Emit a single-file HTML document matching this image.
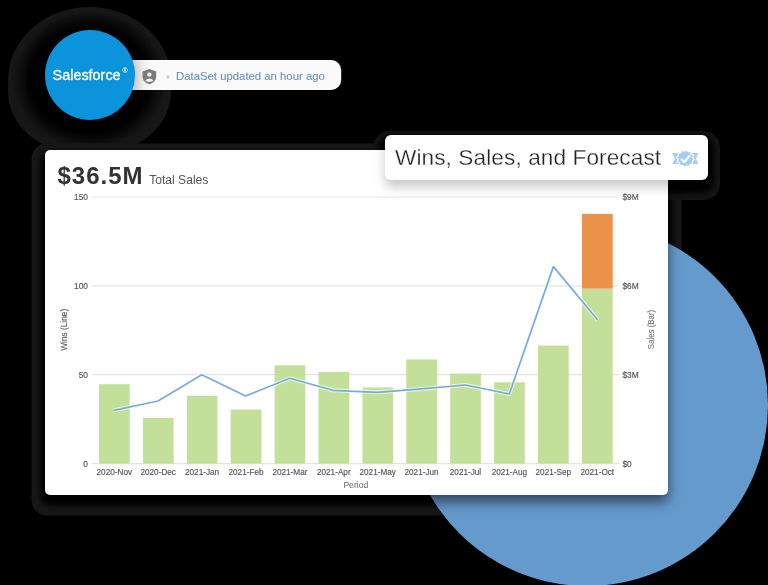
<!DOCTYPE html>
<html><head><meta charset="utf-8">
<style>
html,body{margin:0;padding:0;width:768px;height:585px;overflow:hidden;background:#000;}
body{position:relative;font-family:"Liberation Sans",sans-serif;}
.abs{position:absolute;}
#halo{left:8px;top:7px;width:163px;height:146px;border-radius:50% 50% 44% 44% / 50% 50% 42% 42%;
  background:radial-gradient(closest-side, #000 0%, #000 70%, #060606 78%, #0e0e0e 86%, #151515 93%, #171717 100%);}
#ghostCard{left:45px;top:150px;width:623px;height:345px;border-radius:5px;
  box-shadow:0 6px 6px 4px #000, 0 7px 0 13.5px #181818;}
#ghostTitle{left:385px;top:135px;width:323px;height:45px;border-radius:6px;
  box-shadow:0 7px 6px 6px #000, 0 8px 0 12px #151515;}
#bigcircle{left:405.5px;top:223.6px;width:362px;height:362px;border-radius:50%;background:#659acd;}
#card{left:45px;top:150px;width:623px;height:345px;border-radius:5px;background:#fff;
  box-shadow:0 7px 13px rgba(0,0,0,0.55);}
#pill{left:100px;top:60px;width:240.6px;height:30px;border-radius:0 10px 10px 0;background:#fafafa;box-shadow:0.6px 0 0 rgba(80,140,215,0.6);}
#logo{left:44.75px;top:29.75px;width:90px;height:90px;border-radius:50%;background:#0b93dc;
  box-shadow:0 2px 18px rgba(0,0,0,0.42);}
#title{left:385.4px;top:134.8px;width:322.8px;height:44.8px;border-radius:6px;background:#fff;
  box-shadow:0 7px 12px rgba(0,0,0,0.22);}
svg{position:absolute;left:0;top:0;will-change:transform;}
</style></head>
<body>
<div id="halo" class="abs"></div>
<div id="ghostCard" class="abs"></div>
<div id="ghostTitle" class="abs"></div>
<div id="bigcircle" class="abs"></div>
<div id="card" class="abs"></div>
<div id="pill" class="abs"></div>
<div id="logo" class="abs"></div>
<div id="title" class="abs"></div>
<svg width="768" height="585" viewBox="0 0 768 585" font-family="Liberation Sans, sans-serif">
  <!-- logo text -->
  <text x="52.6" y="79.8" fill="#fff" stroke="#fff" stroke-width="0.3" font-size="14.4">Salesforce</text>
  <text x="122.2" y="73" fill="#fff" font-size="7.5" font-weight="700">®</text>
  <!-- pill content -->
  <g fill="#7b7b7b">
    <path d="M149.4 69 L156.2 71.5 L156.2 76.5 Q156.2 82 149.4 84.3 Q142.5 82 142.5 76.5 L142.5 71.5 Z"/>
  </g>
  <circle cx="149.4" cy="74.6" r="2.2" fill="#f2f2f2"/>
  <path d="M145.2 80.6 Q149.4 76.6 153.6 80.6 Q149.4 83.2 145.2 80.6 Z" fill="#f2f2f2"/>
  <circle cx="167.9" cy="76.9" r="1.8" fill="#d3d3d3"/>
  <text x="176" y="79.6" fill="#6b92b9" stroke="#6b92b9" stroke-width="0.12" font-size="11.35">DataSet updated an hour ago</text>

  <!-- title -->
  <text x="395" y="165.4" fill="#222" stroke="#fff" stroke-width="0.3" font-size="22.6" letter-spacing="0.1">Wins, Sales, and Forecast</text>

  <g fill="#a6cdef">
    <polygon points="681,153.1 672.3,153.1 674.9,158.5 672.3,163.9 681,163.9"/>
    <polygon points="689.8,153.1 698.5,153.1 695.9,158.5 698.5,163.9 689.8,163.9"/>
    <polygon stroke="#fff" stroke-width="1.1" points="686.56,149.78 688.23,151.76 690.82,151.54 691.27,154.10 693.62,155.19 692.74,157.63 694.22,159.76 692.24,161.43 692.46,164.02 689.90,164.47 688.81,166.82 686.37,165.94 684.24,167.42 682.57,165.44 679.98,165.66 679.53,163.10 677.18,162.01 678.06,159.57 676.58,157.44 678.56,155.77 678.34,153.18 680.90,152.73 681.99,150.38 684.43,151.26"/>
  </g>
  <polyline points="681.7,159.6 684.3,162 689.6,156" fill="none" stroke="#fff" stroke-width="2.2" stroke-linecap="round" stroke-linejoin="round"/>
  <!-- card header -->
  <text x="57.5" y="184.4" fill="#333" font-size="24" font-weight="700" letter-spacing="1">$36.5M</text>
  <text x="149.2" y="184.4" fill="#555" font-size="12.1">Total Sales</text>

  <!-- grid -->
  <g stroke="#e3e3e3" stroke-width="1.2">
    <line x1="92" y1="197" x2="619" y2="197"/>
    <line x1="92" y1="285.8" x2="619" y2="285.8"/>
    <line x1="92" y1="374.6" x2="619" y2="374.6"/>
    <line x1="92" y1="463.6" x2="619" y2="463.6"/>
  </g>
  <g fill="#555" stroke="#555" stroke-width="0.15" font-size="8.4" text-anchor="end">
    <text x="88" y="200">150</text>
    <text x="88" y="288.8">100</text>
    <text x="88" y="377.6">50</text>
    <text x="88" y="466.6">0</text>
  </g>
  <g fill="#555" stroke="#555" stroke-width="0.15" font-size="8.4">
    <text x="622.4" y="200">$9M</text>
    <text x="622.4" y="288.8">$6M</text>
    <text x="622.4" y="377.6">$3M</text>
    <text x="622.4" y="466.6">$0</text>
  </g>
  <!-- bars -->
  <g fill="#c3e09a">
    <rect x="99" y="384.2" width="30.7" height="79.4"/>
    <rect x="142.9" y="417.8" width="30.7" height="45.8"/>
    <rect x="186.8" y="395.7" width="30.7" height="67.9"/>
    <rect x="230.7" y="409.5" width="30.7" height="54.1"/>
    <rect x="274.6" y="365.3" width="30.7" height="98.3"/>
    <rect x="318.5" y="372" width="30.7" height="91.6"/>
    <rect x="362.4" y="387.4" width="30.7" height="76.2"/>
    <rect x="406.3" y="359.4" width="30.7" height="104.2"/>
    <rect x="450.2" y="373.5" width="30.7" height="90.1"/>
    <rect x="494.1" y="382.3" width="30.7" height="81.3"/>
    <rect x="538" y="345.6" width="30.7" height="118"/>
    <rect x="582" y="288.6" width="30.7" height="175"/>
  </g>
  <rect x="582" y="213.9" width="30.7" height="74.7" fill="#eb914a"/>
  <!-- line -->
  <polyline fill="none" stroke="rgba(255,255,255,0.6)" stroke-width="4" stroke-linejoin="round"
    points="113.8,410.3 158,401 201.8,374.8 245.6,396 289.8,378.3 332.8,390.3 377,392.3 421.5,388.9 465.5,385 509.3,394 553.4,266.6 597.7,320"/>
  <polyline fill="none" stroke="#7aaad9" stroke-width="1.7" stroke-linejoin="round"
    points="113.8,410.3 158,401 201.8,374.8 245.6,396 289.8,378.3 332.8,390.3 377,392.3 421.5,388.9 465.5,385 509.3,394 553.4,266.6 597.7,320"/>
  <!-- x labels -->
  <g fill="#555" stroke="#555" stroke-width="0.15" font-size="8.2" text-anchor="middle">
    <text x="114.3" y="475.4">2020-Nov</text>
    <text x="158.2" y="475.4">2020-Dec</text>
    <text x="202.1" y="475.4">2021-Jan</text>
    <text x="246" y="475.4">2021-Feb</text>
    <text x="289.9" y="475.4">2021-Mar</text>
    <text x="333.8" y="475.4">2021-Apr</text>
    <text x="377.7" y="475.4">2021-May</text>
    <text x="421.6" y="475.4">2021-Jun</text>
    <text x="465.5" y="475.4">2021-Jul</text>
    <text x="509.4" y="475.4">2021-Aug</text>
    <text x="553.3" y="475.4">2021-Sep</text>
    <text x="597.3" y="475.4">2021-Oct</text>
  </g>
  <text x="355.8" y="488.4" fill="#666" font-size="8.6" text-anchor="middle">Period</text>
  <text transform="translate(67.4,329.8) rotate(-90)" fill="#555" stroke="#555" stroke-width="0.12" font-size="8.6" text-anchor="middle" textLength="42" lengthAdjust="spacingAndGlyphs">Wins (Line)</text>
  <text transform="translate(654,329.5) rotate(-90)" fill="#777" stroke="#777" stroke-width="0.12" font-size="8.7" text-anchor="middle" textLength="39.5" lengthAdjust="spacingAndGlyphs">Sales (Bar)</text>
</svg>
</body></html>
